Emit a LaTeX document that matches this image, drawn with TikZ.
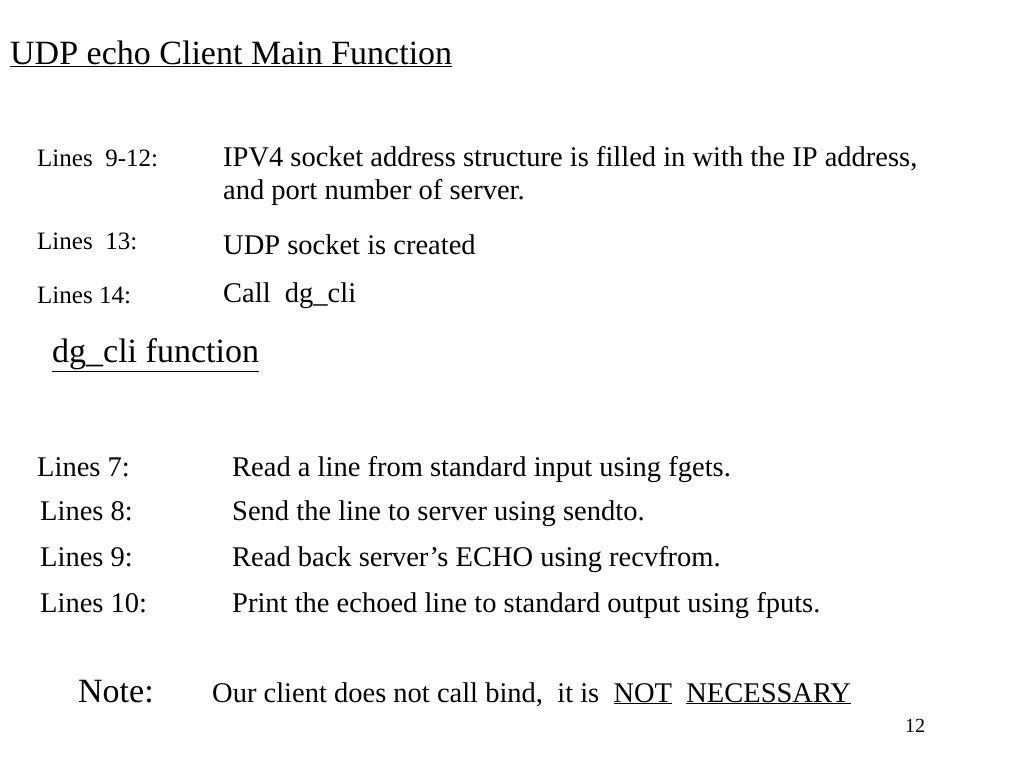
\documentclass[tikz,border=0pt]{standalone}
\usepackage{fontspec}
\setmainfont{Liberation Serif}
\usetikzlibrary{positioning}

\begin{document}
\begin{tikzpicture}[x=1pt,y=-1pt,
    txt/.style={anchor=base west,inner sep=0pt},
    big/.style={txt,font=\fontsize{34}{38}\selectfont},
    mid/.style={txt,font=\fontsize{28.5}{32}\selectfont},
    small/.style={txt,font=\fontsize{25}{29}\selectfont}]
            \useasboundingbox (0,0) rectangle (1024,768);

            % heading
            \node[big] (title) at (10,64) {\underline{UDP echo Client Main Function}};

            % main function lines
            \node[small] (l912) at (37,166) {Lines~~9-12:};
            \node[mid] (d912) at (223,166) {IPV4 socket address structure is filled in with the IP address,};
            \node[mid] (d912b) at (223,199) {and port number of server.};
            \node[small] (l13) at (37,249) {Lines~~13:};
            \node[mid] (d13) at (223,254) {UDP socket is created};
            \node[small] (l14) at (37,303) {Lines 14:};
            \node[mid] (d14) at (223,302) {Call~~dg\_cli};

            % dg_cli
            \node[big] (dgcli) at (52,362) {\underline{dg\_cli function}};

            \node[mid] (l7) at (37,476) {Lines 7:};
            \node[mid] (d7) at (232,476) {Read a line from standard input using fgets.};
            \node[mid] (l8) at (40,520) {Lines 8:};
            \node[mid] (d8) at (232,520) {Send the line to server using sendto.};
            \node[mid] (l9) at (40,566) {Lines 9:};
            \node[mid] (d9) at (232,566) {Read back server’s ECHO using recvfrom.};
            \node[mid] (l10) at (40,612) {Lines 10:};
            \node[mid] (d10) at (232,612) {Print the echoed line to standard output using fputs.};

            % note
            \node[big] (note) at (78,702) {Note:};
            \node[mid] (notetxt) at (212,702) {Our client does not call bind,~~it is~~\underline{NOT}~~\underline{NECESSARY}};
            \node[txt,font=\fontsize{20}{24}\selectfont] (page) at (905,732) {12};
\end{tikzpicture}
\end{document}
